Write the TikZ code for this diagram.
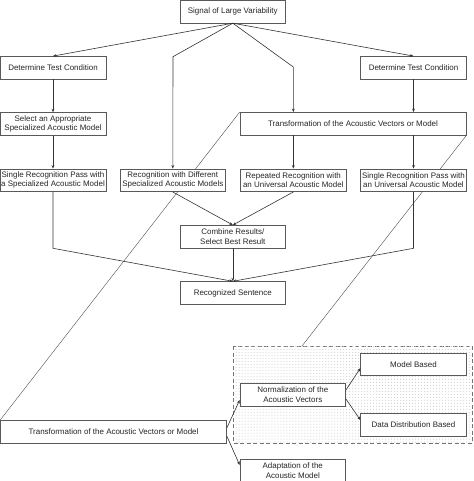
\documentclass[tikz,border=0pt]{standalone}
\usepackage{fontspec}
\setmainfont{Liberation Sans}
\usetikzlibrary{arrows.meta,calc,patterns,backgrounds}
\begin{document}
\begin{tikzpicture}[x=1bp,y=-1bp,
  box/.style={draw=black!65,line width=0.6bp,fill=white,minimum width=105.7bp,minimum height=22.8bp,
    inner sep=0pt,align=center,font=\fontsize{8}{9.3}\selectfont,text=black!85},
  wide/.style={box,minimum width=226bp},
  conn/.style={draw=black!80,line width=0.6bp},
  arr/.style={conn,-{Stealth[length=3.5bp,width=2.8bp]}},
  thin/.style={draw=black!70,line width=0.4bp},
  region/.style={draw=black!55,line width=0.7bp,dash pattern=on 4bp off 2.5bp,fill=white,
    postaction={pattern=dots,pattern color=black!22}}]
\useasboundingbox (0,0) rectangle (474,481);
% nodes
\node[box] (sig) at (232.8,11.5) {Signal of Large Variability};
\node[box] (dtcL) at (53,67.8) {Determine Test Condition};
\node[box] (dtcR) at (413.5,67.8) {Determine Test Condition};
\node[box] (sel) at (53,124) {Select an Appropriate\\Specialized Acoustic Model};
\node[wide] (traT) at (353,123.8) {Transformation of the Acoustic Vectors or Model};
\node[box] (ssp) at (53,180.3) {Single Recognition Pass with\\a Specialized Acoustic Model};
\node[box] (rdiff) at (172.8,180.3) {Recognition with Different\\Specialized Acoustic Models};
\node[box] (rep) at (293.3,180.3) {Repeated Recognition with\\an Universal Acoustic Model};
\node[box] (sup) at (413.5,180.3) {Single Recognition Pass with\\an Universal Acoustic Model};
\node[box] (comb) at (232.8,236.7) {Combine Results/\\Select Best Result};
\node[box] (recs) at (232.8,293) {Recognized Sentence};
\node[wide] (traB) at (113.5,431.7) {Transformation of the Acoustic Vectors or Model};
\node[box] (norm) at (292.8,394.7) {Normalization of the\\Acoustic Vectors};
\node[box] (mb) at (413.5,364.2) {Model Based};
\node[box] (ddb) at (413.5,424.7) {Data Distribution Based};
\node[box] (adp) at (292.8,470.7) {Adaptation of the\\Acoustic Model};
% background: dashed region and magnification lines
\coordinate (zoomend) at (302,346);
\begin{scope}[on background layer]
  \draw[region] (233.5,346) rectangle (472,443.3);
  \draw[thin] (traT.north west) -- (traB.north west);
  \draw[thin] (traT.south east) -- (zoomend);
\end{scope}
% bend points
\coordinate (b1) at (173,56.7);
\coordinate (b2) at (293.3,67);
\coordinate (b3) at (53,248.3);
\coordinate (b4) at (413.5,248.3);
% connectors
\draw[arr] (sig.south) -- (dtcL.north);
\draw[arr] (sig.south) -- (b1) -- (rdiff.north);
\draw[arr] (sig.south) -- (b2) -- (b2 |- traT.north);
\draw[arr] (sig.south) -- (dtcR.north);
\draw[arr] (dtcR.south) -- (dtcR.south |- traT.north);
\draw[arr] (dtcL.south) -- (sel.north);
\draw[arr] (sel.south) -- (ssp.north);
\draw[arr] (rep.north |- traT.south) -- (rep.north);
\draw[arr] (sup.north |- traT.south) -- (sup.north);
\draw[arr] (rdiff.south) -- (comb.north);
\draw[arr] (rep.south) -- (comb.north);
\draw[arr] (comb.south) -- (recs.north);
\draw[arr] (ssp.south) -- (b3) -- (recs.north);
\draw[arr] (sup.south) -- (b4) -- (recs.north);
% lower connectors
\draw[arr] ($(traB.east)+(0,-3.7)$) -- ($(norm.west)+(0,5.3)$);
\draw[arr] ($(traB.east)+(0,4.3)$) -- ($(adp.west)+(0,-5.7)$);
\draw[arr] ($(norm.east)+(0,-4.7)$) -- ($(mb.west)+(0,4)$);
\draw[arr] ($(norm.east)+(0,4.3)$) -- ($(ddb.west)+(0,-4.7)$);
\end{tikzpicture}
\end{document}
